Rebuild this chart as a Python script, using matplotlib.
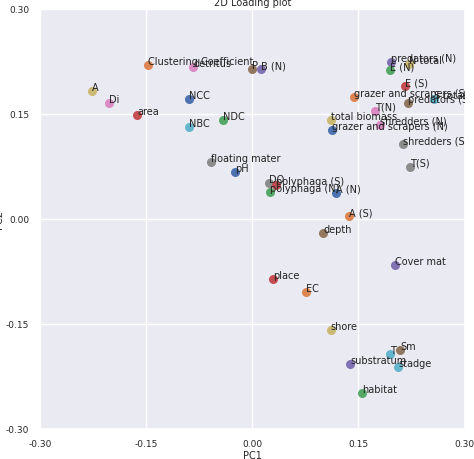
import matplotlib
matplotlib.use("Agg")
import matplotlib.pyplot as plt
import seaborn as sns

sns.set_theme(style="darkgrid")
pal = sns.color_palette("deep")
C = dict(b=0, o=1, g=2, r=3, p=4, br=5, pk=6, gr=7, y=8, c=9)

labels = ["A","Di","area","Clustering Coefficient","detritus","NCC","NBC","NDC","floating mater","pH",
          "P","B (N)","DO","polyphaga (S)","polyphaga (N)","A (N)","A (S)","depth","Cover mat","place","EC",
          "shore","T","Sm","substratum","stadge","habitat",
          "predators (N)","N total","E (N)","E (S)","grazer and scrapers (S)","S total","predators (S)","T(N)",
          "total biomass","shredders (N)","grazer and scrapers (N)","shredders (S)","T(S)"]
pc1 = [-0.227,-0.203,-0.163,-0.148,-0.084,-0.090,-0.090,-0.041,-0.059,-0.024,
       -0.001,0.012,0.024,0.033,0.025,0.118,0.137,0.100,0.202,0.029,0.076,
       0.111,0.194,0.209,0.138,0.206,0.155,
       0.196,0.221,0.194,0.216,0.144,0.257,0.220,0.173,
       0.111,0.181,0.112,0.213,0.223]
pc2 = [0.183,0.166,0.149,0.220,0.218,0.172,0.131,0.142,0.082,0.068,
       0.214,0.214,0.051,0.049,0.039,0.038,0.004,-0.020,-0.066,-0.086,-0.104,
       -0.159,-0.192,-0.187,-0.207,-0.211,-0.249,
       0.225,0.221,0.213,0.190,0.175,0.172,0.166,0.155,
       0.141,0.135,0.128,0.107,0.075]
cols = ["y","pk","r","o","pk","b","c","g","gr","b",
        "br","p","gr","r","g","b","o","br","p","r","o",
        "y","c","br","p","c","g",
        "p","y","g","r","o","c","br","pk",
        "y","pk","b","gr","gr"]

fig = plt.figure(figsize=(4.74, 4.59), dpi=100)
ax = fig.add_axes([0.085, 0.065, 0.895, 0.915])
for x, y, l, c in zip(pc1, pc2, labels, cols):
    ax.scatter(x, y, color=pal[C[c]], s=30, zorder=3)
    ax.text(x, y, l, fontsize=7, color="#222222", zorder=4, clip_on=True)
ax.set_xlim(-0.3, 0.3)
ax.set_ylim(-0.3, 0.3)
ticks = [-0.30, -0.15, 0.00, 0.15, 0.30]
ax.set_xticks(ticks)
ax.set_yticks(ticks)
ax.set_xticklabels([f"{t:.2f}" for t in ticks])
ax.set_yticklabels([f"{t:.2f}" for t in ticks])
ax.tick_params(labelsize=6.5, pad=2)
ax.set_xlabel("PC1", fontsize=7, labelpad=1)
ax.set_ylabel("PC2", fontsize=7, labelpad=1)
ax.set_title("2D Loading plot", fontsize=7, pad=2)
fig.savefig("out.png", dpi=100)
